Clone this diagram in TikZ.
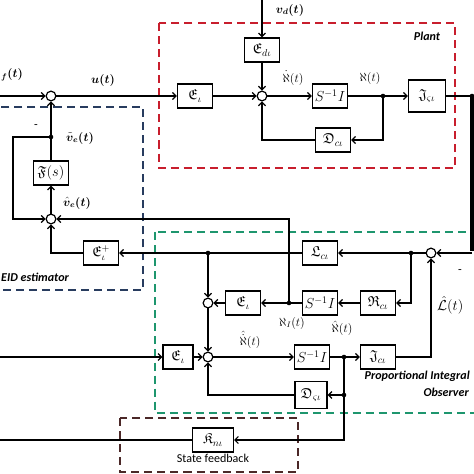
\documentclass[tikz,border=0pt]{standalone}
\usepackage{fontspec}
\setmainfont{Carlito}
\usepackage{amsmath,amssymb,bm}
\usetikzlibrary{arrows.meta}

\tikzset{
  blk/.style={draw, fill=white, line width=1.2pt, minimum width=12.3mm, minimum height=8.4mm, inner sep=1pt, font=\Large},
  sumn/.style={circle, draw, fill=white, line width=1.2pt, minimum size=3.4mm, inner sep=0pt},
  dotn/.style={circle, fill, minimum size=1.6mm, inner sep=0pt},
  sig/.style={line width=1.2pt},
  lbl/.style={font=\large, inner sep=1pt},
  tag/.style={font=\large\bfseries\itshape, inner sep=1pt},
  region/.style={dashed, line width=1.3pt, dash pattern=on 8pt off 5pt},
  >={Straight Barb[length=3.5pt,width=7pt]}
}
\definecolor{plantred}{RGB}{200,30,45}
\definecolor{eidblue}{RGB}{40,60,95}
\definecolor{piogreen}{RGB}{30,150,110}
\definecolor{fbbrown}{RGB}{75,40,40}

\begin{document}
\begin{tikzpicture}[x=0.35mm, y=-0.35mm]
\clip (0,0) rectangle (474,474);

% dashed regions
\draw[region, plantred] (159,23) rectangle (455,168);
\draw[region, eidblue] (-10,107) rectangle (143,290);
\draw[region, piogreen] (155,232) rectangle (495,413);
\draw[region, fbbrown] (120,418) rectangle (298,472);

% plant
\node[sumn] (sumU) at (51,96) {};
\node[blk] (Ep) at (195,96) {$\mathfrak{E}_\iota$};
\node[blk] (Edi) at (262,50) {$\mathfrak{E}_{d\iota}$};
\node[sumn] (sumP) at (262,96) {};
\node[blk] (SIp) at (330,96) {$S^{-1}I$};
\node[dotn] (dotN) at (383,96) {};
\node[blk, minimum width=13mm, minimum height=11.2mm] (Jp) at (427,96) {$\mathfrak{J}_{\varsigma\iota}$};
\node[blk] (Dp) at (333,140) {$\mathfrak{D}_{c\iota}$};
\node[dotn] (dotJ) at (472,96) {};
\coordinate (inU) at (0,96);
\coordinate (inVd) at (262,0);
\coordinate (cornerL) at (472,253);

% EID estimator
\node[dotn] (dotV) at (51,137) {};
\node[blk] (Fs) at (51,173) {$\mathfrak{F}(s)$};
\node[sumn] (sumE) at (51,219) {};
\node[blk] (Eplus) at (101,253) {$\mathfrak{E}_\iota^+$};
\coordinate (cornerV) at (13,137);

% observer
\node[sumn] (sumL) at (431,253) {};
\node[dotn] (dotL) at (411,253) {};
\node[blk] (Lci) at (320,253) {$\mathfrak{L}_{c\iota}$};
\node[dotn] (dotA) at (208,253) {};
\node[blk] (Rci) at (378,303) {$\mathfrak{R}_{c\iota}$};
\node[blk] (SIo) at (320,303) {$S^{-1}I$};
\node[dotn] (dotNI) at (289,303) {};
\node[blk] (Eo) at (243,303) {$\mathfrak{E}_\iota$};
\node[sumn] (sumA) at (208,303) {};
\node[blk, minimum width=10.5mm] (Ein) at (178,357) {$\mathfrak{E}_\iota$};
\node[sumn] (sumB) at (208,357) {};
\node[blk] (SIb) at (312,357) {$S^{-1}I$};
\node[dotn] (dotB) at (344,357) {};
\node[blk] (Jci) at (378,357) {$\mathfrak{J}_{c\iota}$};
\node[dotn] (dotC) at (344,395) {};
\node[blk, minimum width=11.2mm, minimum height=9.4mm] (Dci) at (311,395) {$\mathfrak{D}_{\varsigma\iota}$};
\coordinate (inB) at (0,357);

% state feedback
\node[blk, minimum width=14.3mm] (Kni) at (213,440) {$\mathfrak{K}_{n\iota}$};
\coordinate (outK) at (0,440);

% labels
\node[lbl] (lf) at (12,75) {$\bm{{}_f(t)}$};
\node[lbl] (lu) at (103,80) {$\bm{u(t)}$};
\node[lbl] (lvd) at (290,10) {$\bm{v_d(t)}$};
\node[tag] (lplant) at (427,36) {Plant};
\node[lbl] (lNdot) at (293,78) {$\dot{\aleph}(t)$};
\node[lbl] (lN) at (370,78) {$\aleph(t)$};
\node[lbl] (lminusU) at (36,127) {-};
\node[lbl] (lvt) at (80,138) {$\bm{\tilde{v}_e(t)}$};
\node[lbl] (lvh) at (77,203) {$\bm{\hat{v}_e(t)}$};
\node[tag, anchor=west] (leid) at (0,277) {EID estimator};
\node[lbl] (lminusL) at (460,272) {-};
\node[lbl, font=\Large, anchor=west] (lLhat) at (436,305) {$\hat{\mathcal{L}}(t)$};
\node[lbl] (lNI) at (292,323) {$\aleph_I(t)$};
\node[lbl] (lNhat) at (342,328) {$\hat{\aleph}(t)$};
\node[lbl] (lNhatdot) at (250,340) {$\hat{\dot{\aleph}}(t)$};
\node[tag, anchor=east] (lpio1) at (471,376) {Proportional Integral};
\node[tag, anchor=east] (lpio2) at (470,392) {Observer};
\node[inner sep=1pt, font=\large] (lsf) at (213,458) {State feedback};

% plant connectors
\draw[sig,->] (inU) -- (sumU);
\draw[sig,->] (sumU) -- (Ep);
\draw[sig,->] (inVd) -- (Edi);
\draw[sig,->] (Edi) -- (sumP);
\draw[sig,->] (Ep) -- (sumP);
\draw[sig,->] (sumP) -- (SIp);
\draw[sig] (SIp) -- (dotN);
\draw[sig,->] (dotN) -- (Jp);
\draw[sig,->] (dotN) |- (Dp);
\draw[sig,->] (Dp) -| (sumP);
\draw[sig] (Jp) -- (dotJ);
\draw[line width=3.5pt] (dotJ.center) -- ([yshift=1.5pt]cornerL);
\draw[sig,->] (cornerL) -- (sumL);

% EID connectors
\draw[sig,->] (sumE) -- (Fs);
\draw[sig] (Fs) -- (dotV);
\draw[sig,->] (dotV) -- (sumU);
\draw[sig,->] (dotV) -- (cornerV) |- (sumE);
\draw[sig,->] (Eplus) -| (sumE);

% observer connectors
\draw[sig] (sumL) -- (dotL);
\draw[sig,->] (dotL) -- (Lci);
\draw[sig,->] (dotL) |- (Rci);
\draw[sig] (Lci) -- (dotA);
\draw[sig,->] (dotA) -- (Eplus);
\draw[sig,->] (dotA) -- (sumA);
\draw[sig,->] (Rci) -- (SIo);
\draw[sig] (SIo) -- (dotNI);
\draw[sig,->] (dotNI) -- (Eo);
\draw[sig,->] (dotNI) |- (sumE);
\draw[sig,->] (Eo) -- (sumA);
\draw[sig,->] (sumA) -- (sumB);
\draw[sig,->] (inB) -- (Ein);
\draw[sig,->] (Ein) -- (sumB);
\draw[sig,->] (sumB) -- (SIb);
\draw[sig] (SIb) -- (dotB);
\draw[sig,->] (dotB) -- (Jci);
\draw[sig,->] (Jci) -| (sumL);
\draw[sig] (dotB) -- (dotC);
\draw[sig,->] (dotC) -- (Dci);
\draw[sig,->] (Dci) -| (sumB);
\draw[sig,->] (dotC) |- (Kni);
\draw[sig] (Kni) -- (outK);
\end{tikzpicture}
\end{document}
